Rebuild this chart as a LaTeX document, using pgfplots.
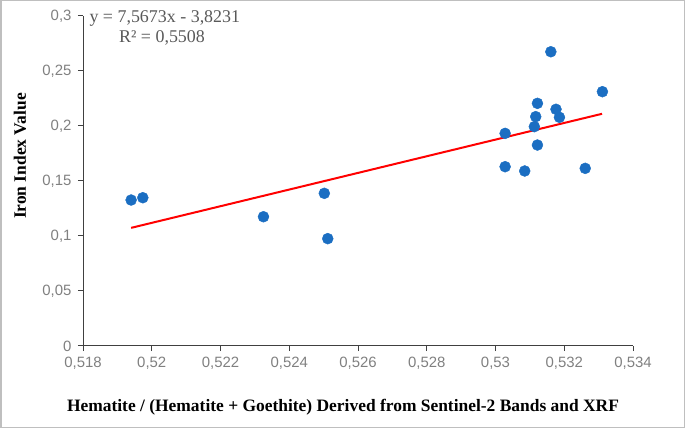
\documentclass[border=0pt]{standalone}
\usepackage{pgfplots}
\pgfplotsset{compat=1.18}
\usepackage{fontspec}
\setmainfont{Liberation Serif}
\newfontfamily\ticksans{Liberation Sans}
\definecolor{ptblue}{HTML}{1B6EC2}
\definecolor{axgray}{HTML}{404040}
\definecolor{tkgray}{HTML}{808080}
\definecolor{eqgray}{HTML}{595959}
\definecolor{frame}{HTML}{BFBFBF}
\begin{document}
\begin{tikzpicture}
\draw[frame, line width=1.5bp] (0.75bp,0.75bp) rectangle (684.25bp,427.25bp);
\begin{axis}[
  at={(83bp,82bp)}, anchor=south west,
  scale only axis, width=550bp, height=330bp,
  xmin=0.518, xmax=0.534, ymin=0, ymax=0.3,
  xtick={0.518,0.520,0.522,0.524,0.526,0.528,0.530,0.532,0.534},
  ytick={0,0.05,0.1,0.15,0.2,0.25,0.3},
  scaled ticks=false,
  axis lines=left, axis line style={-, axgray, line width=1bp},
  tick align=outside, tick pos=left,
  major tick length=5bp,
  tick style={axgray, line width=1bp},
  /pgf/number format/fixed,
  /pgf/number format/assume math mode=true,
  /pgf/number format/use comma,
  xticklabel style={font=\ticksans\fontsize{15}{15}\selectfont, text=tkgray, /pgf/number format/fixed, /pgf/number format/precision=3, yshift=-3bp},
  yticklabel style={font=\ticksans\fontsize{15}{15}\selectfont, text=tkgray, /pgf/number format/fixed, /pgf/number format/precision=2, xshift=-3bp},
  clip=false,
]
\addplot[only marks, mark=*, mark size=5.5bp, mark options={draw=ptblue, fill=ptblue}] coordinates {
  (0.51940,0.1327) (0.51974,0.1348) (0.52325,0.1175) (0.52502,0.1388)
  (0.52512,0.0976) (0.53161,0.2675) (0.53311,0.2312) (0.53122,0.2206)
  (0.53176,0.2152) (0.53186,0.2079) (0.53117,0.2085) (0.53113,0.1994)
  (0.53028,0.1933) (0.53122,0.1827) (0.53028,0.1630) (0.53085,0.1591)
  (0.53261,0.1615)
};
\addplot[red, line width=2bp] coordinates {(0.5194,0.1074) (0.5331,0.2111)};
\end{axis}
\node[text=eqgray, font=\fontsize{18}{18}\selectfont, anchor=west] at (86bp,410bp) {y = 7,5673x - 3,8231};
\node[text=eqgray, font=\fontsize{18}{18}\selectfont] at (162bp,390bp) {R² = 0,5508};
\node[font=\bfseries\fontsize{17.5}{18}\selectfont, rotate=90] at (20bp,272bp) {Iron Index Value};
\node[font=\bfseries\fontsize{17.5}{18}\selectfont] at (343bp,21bp) {Hematite / (Hematite + Goethite) Derived from Sentinel-2 Bands and XRF};
\end{tikzpicture}
\end{document}
